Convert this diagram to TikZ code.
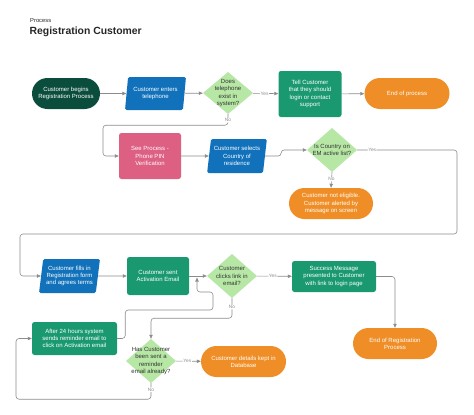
\documentclass[tikz,border=0pt]{standalone}
\usepackage{fontspec}
\setmainfont{Liberation Sans}
\usepackage{xcolor}
\usepackage{tikz}
\usetikzlibrary{arrows.meta,shapes.geometric}
\definecolor{startgreen}{HTML}{0B4D3C}
\definecolor{inblue}{HTML}{1171BA}
\definecolor{askgreen}{HTML}{B7E7A5}
\definecolor{stepgreen}{HTML}{1A9970}
\definecolor{endorange}{HTML}{EF8E26}
\definecolor{linkpink}{HTML}{DD5F82}
\definecolor{wire}{HTML}{8C8C8C}
\definecolor{asktext}{HTML}{333333}
\tikzset{
  base/.style={font=\fontsize{6}{7.2}\selectfont, align=center, text=white, inner sep=1pt},
  term/.style={base, fill=#1, rounded corners=15.5pt, minimum width=85pt, minimum height=31pt},
  stepbox/.style={base, fill=#1, rounded corners=2.5pt, minimum width=62pt, minimum height=40pt},
  inbox/.style={base, fill=inblue, trapezium, trapezium left angle=80, trapezium right angle=100,
    trapezium stretches=true, rounded corners=1.5pt, minimum width=61pt, minimum height=33pt},
  ask/.style={base, text=asktext, minimum width=50pt, minimum height=44pt, inner sep=0pt,
    path picture={\fill[askgreen] (path picture bounding box.north) -- (path picture bounding box.east)
      -- (path picture bounding box.south) -- (path picture bounding box.west) -- cycle;}},
  conn/.style={draw=wire, line width=0.6pt, rounded corners=3pt, -{Triangle[length=4pt,width=3.4pt]}},
  lbl/.style={text=wire, fill=white, font=\fontsize{4.8}{5}\selectfont, inner sep=0.6pt}
}

\begin{document}
\begin{tikzpicture}[x=1pt,y=-1pt]
  \useasboundingbox (0,0) rectangle (474,415);
  \node[anchor=west, text=black!85, font=\fontsize{5.8}{6}\selectfont, inner sep=0pt] (kind) at (30,21) {Process};
  \node[anchor=west, text=black!85, font=\fontsize{10.4}{11}\selectfont\bfseries, inner sep=0pt] (title) at (29.5,32) {Registration Customer};

  % first row
  \node[term=startgreen, minimum width=68pt] (start) at (66,93.5) {Customer begins\\Registration Process};
  \node[inbox] (phone) at (155.5,93.5) {Customer enters\\telephone};
  \node[ask, minimum height=42pt] (exists) at (228,93) {Does\\telephone\\exist in\\system?};
  \node[stepbox=stepgreen, minimum width=63pt, minimum height=46pt] (tell) at (310,94) {Tell Customer\\that they should\\login or contact\\support};
  \node[term=endorange] (endproc) at (407,93.5) {End of process};

  % second row
  \node[stepbox=linkpink, minimum height=46pt] (pin) at (150,156) {See Process -\\Phone PIN\\Verification};
  \node[inbox, minimum width=60pt, minimum height=34pt] (country) at (237,156) {Customer selects\\Country of\\residence};
  \node[ask] (active) at (332,150) {Is Country on\\EM active list?};
  \node[term=endorange, minimum width=84pt] (noteligible) at (331,203.5) {Customer not eligible.\\Customer alerted by\\message on screen};

  % third row
  \node[inbox, minimum height=34pt] (fills) at (69.5,276) {Customer fills in\\Registration form\\and agrees terms};
  \node[stepbox=stepgreen, minimum height=38pt] (sent) at (158,276) {Customer sent\\Activation Email};
  \node[ask] (clicks) at (232,276) {Customer\\clicks link in\\email?};
  \node[stepbox=stepgreen, minimum width=84pt, minimum height=31pt] (success) at (334,276.5) {Success Message\\presented to Customer\\with link to login page};
  \node[term=endorange, minimum width=84pt] (endreg) at (395,343.5) {End of Registration\\Process};

  % fourth row
  \node[stepbox=stepgreen, minimum width=85pt, minimum height=33pt] (remind) at (74.5,338.5) {After 24 hours system\\sends reminder email to\\click on Activation email};
  \node[ask] (reminded) at (151,361) {Has Customer\\been sent a\\reminder\\email already?};
  \node[term=endorange] (kept) at (243.5,361.5) {Customer details kept in\\Database};
  \coordinate (merge) at (197,277.5);

  \draw[conn] (start) -- (phone);
  \draw[conn] (phone) -- (exists);
  \draw[conn] (exists) -- node[lbl, pos=0.45]{Yes} (tell);
  \draw[conn] (tell) -- (endproc);
  \draw[conn] (exists.south) -- node[lbl, pos=0.55]{No} ++(0,11) -| (103,140) |- (pin.west);
  \draw[conn] (pin) -- (country);
  \draw[conn] (country.east) -- ++(16,0) |- (active.west);
  \draw[conn] (active.east) -- node[lbl, pos=0.15]{Yes} (457,150) -- (457,234) -- (20,234) |- (fills.west);
  \draw[conn] (active.south) -- node[lbl, pos=0.45]{No} (noteligible.north);
  \draw[conn] (fills) -- (sent);
  \draw[conn] (sent) -- (clicks);
  \draw[conn] (clicks) -- node[lbl, pos=0.45]{Yes} (success);
  \draw[conn] (success.east) -| (endreg.north);
  \draw[conn] (clicks.south) -- node[lbl, pos=0.45]{No} ++(0,20) -| (reminded.north);
  \draw[conn] (reminded) -- node[lbl, pos=0.45]{Yes} (kept);
  \draw[conn] (reminded.south) -- node[lbl, pos=0.4]{No} ++(0,16) -| (16,360) |- (remind.west);
  \draw[conn] (remind.east) -- ++(8,0) |- (213,310) |- (197,292) -- (merge);
\end{tikzpicture}
\end{document}
